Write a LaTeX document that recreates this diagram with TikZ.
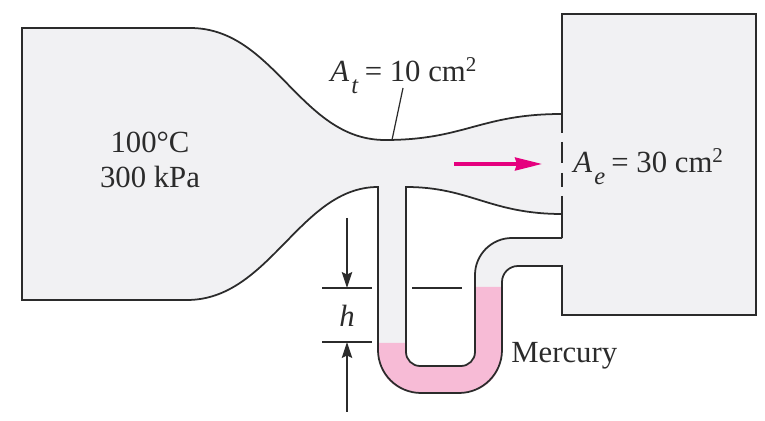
\documentclass[tikz,border=0pt]{standalone}
\usepackage{fontspec}
\setmainfont{Liberation Serif}
\usetikzlibrary{arrows.meta}
\definecolor{gasgray}{HTML}{F1F1F3}
\definecolor{mercpink}{HTML}{F7BBD6}
\definecolor{flowpink}{HTML}{E5007E}
\definecolor{inkgray}{HTML}{2B2B2B}
\newcommand{\lowsub}[1]{\kern1.2pt\raisebox{-0.8ex}{\fontsize{14}{14}\selectfont\textit{#1}}\kern3.5pt}
\newcommand{\upsq}{\raisebox{0.75ex}{\fontsize{12}{12}\selectfont 2}}
\tikzset{
  wall/.style={draw=inkgray,line width=1pt},
  dimline/.style={draw=inkgray,line width=0.7pt},
  dimarrow/.style={draw=inkgray,line width=0.7pt,-{Stealth[length=3.2mm,width=2.1mm,inset=0.5mm]}},
  flowarrow/.style={draw=flowpink,line width=1.8pt,-{Stealth[length=5.4mm,width=2.6mm,inset=0.4mm]}},
  lbl/.style={inner sep=0pt,text=inkgray,font=\fontsize{17.5}{20.4}\selectfont}
}
\begin{document}
\begin{tikzpicture}[x=0.02cm,y=-0.02cm]
\useasboundingbox (0,0) rectangle (765,421);

% gas regions
\fill[gasgray] (22,28) -- (190,28) .. controls (275,28) and (300,140) .. (385,140)
  .. controls (465,140) and (480,114) .. (562,114) -- (562,14) -- (756,14) -- (756,315) -- (562,315)
  -- (562,266) -- (518,266) .. controls (507,266) and (502,271) .. (502,282) -- (502,287) -- (475,287)
  .. controls (475,255) and (485,238) .. (512,238) -- (562,238) -- (562,214)
  .. controls (490,214) and (470,187) .. (406,187) -- (406,343) -- (378,343) -- (378,187)
  .. controls (300,187) and (270,300) .. (187,300) -- (22,300) -- cycle;

% mercury
\fill[mercpink] (378,343) -- (406,343) -- (406,352) .. controls (406,361) and (411,366) .. (420,366)
  -- (461,366) .. controls (470,366) and (475,361) .. (475,352) -- (475,287) -- (502,287) -- (502,350)
  .. controls (502,376) and (485,393) .. (459,393) -- (421,393) .. controls (395,393) and (378,376) .. (378,350) -- cycle;

% walls
\draw[wall] (562,114) -- (562,133) (562,142) -- (562,163) (562,173) -- (562,187) (562,196) -- (562,238);
\draw[wall] (562,114) .. controls (480,114) and (465,140) .. (385,140)
  .. controls (300,140) and (275,28) .. (190,28) -- (22,28) -- (22,300) -- (187,300)
  .. controls (270,300) and (300,187) .. (378,187) [rounded corners=8.6mm] -- (378,393) -- (502,393)
  [rounded corners=3.2mm] -- (502,266) [sharp corners] -- (562,266) -- (562,315) -- (756,315) -- (756,14) -- (562,14) -- (562,114);
\draw[wall] (562,214) .. controls (490,214) and (470,187) .. (406,187) [rounded corners=2.8mm] -- (406,366) -- (475,366)
  [rounded corners=7.4mm] -- (475,238) [sharp corners] -- (562,238);

% labels
\node[lbl,align=center] (tank) at (150,160) {100°C\\300 kPa};
\node[lbl,anchor=base west] (At) at (330,82) {\textit{A}\lowsub{t}= 10 cm\upsq};
\node[lbl,anchor=base west] (Ae) at (573,173) {\textit{A}\lowsub{e}= 30 cm\upsq};
\node[lbl] (hlabel) at (347,316) {\textit{h}};
\node[lbl,anchor=base west] (mercury) at (511,363) {Mercury};

\coordinate (throat) at (392,140);
\coordinate (tagend) at (403,88);
\coordinate (flowa) at (454,164);
\coordinate (flowb) at (542,164);
\coordinate (upa) at (347,218);
\coordinate (upb) at (347,288);
\coordinate (loa) at (347,412);
\coordinate (lob) at (347,342);
\coordinate (ua) at (322,288);
\coordinate (ub) at (372,288);
\coordinate (la) at (322,342);
\coordinate (lb) at (372,342);
\coordinate (ma) at (412,288);
\coordinate (mb) at (462,288);

\draw[dimline] (tagend) -- (throat);
\draw[flowarrow] (flowa) -- (flowb);
\draw[dimarrow] (upa) -- (upb);
\draw[dimarrow] (loa) -- (lob);
\draw[dimline] (ua) -- (ub);
\draw[dimline] (la) -- (lb);
\draw[dimline] (ma) -- (mb);

\end{tikzpicture}
\end{document}
